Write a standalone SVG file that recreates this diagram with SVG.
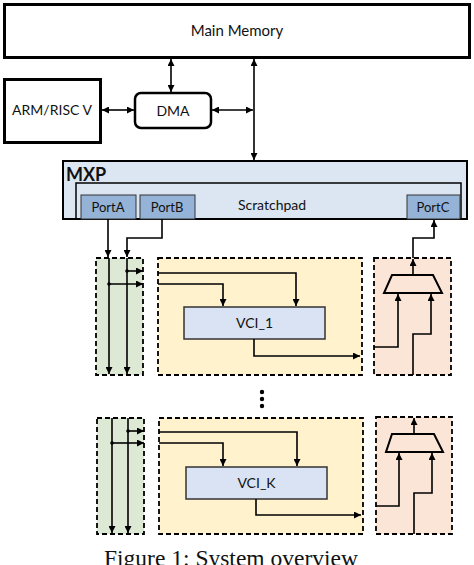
<svg xmlns="http://www.w3.org/2000/svg" width="474" height="565" viewBox="0 0 474 565">
<style>
.lbl{font-family:Lato,"Liberation Sans",sans-serif;fill:#111;text-anchor:middle}
.ln{fill:none;stroke:#000;stroke-width:1.6}
.dash{stroke:#000;stroke-width:1.8;stroke-dasharray:5,3}
.port{fill:#95b3d7;stroke:#333;stroke-width:1}
.vci{fill:#dae3f3;stroke:#333;stroke-width:1.5}
.mux{fill:#fbe5d6;stroke:#000;stroke-width:2}
</style>
<defs>
<marker id="a" markerWidth="7" markerHeight="7" refX="7" refY="3.5" orient="auto-start-reverse" markerUnits="userSpaceOnUse">
<path d="M0,0 L7,3.5 L0,7 z" fill="#000"/>
</marker>
</defs>
<rect width="474" height="565" fill="#fff"/>
<g id="main-memory">
<rect x="4.5" y="4.5" width="465" height="53" fill="#fff" stroke="#000" stroke-width="3"/>
<text class="lbl" x="237" y="36" font-size="15">Main Memory</text>
</g>
<g id="arm">
<rect x="4.5" y="79.5" width="96" height="63" fill="#fff" stroke="#000" stroke-width="3"/>
<text class="lbl" x="52" y="115" font-size="14">ARM/RISC V</text>
</g>
<g id="dma">
<rect x="135" y="93" width="76" height="35" rx="6" fill="#fff" stroke="#000" stroke-width="2.5"/>
<text class="lbl" x="173" y="116" font-size="14">DMA</text>
</g>
<g id="mxp">
<rect x="63" y="161" width="404" height="58" fill="#dce6f2" stroke="#000" stroke-width="2"/>
<text x="66" y="181" font-size="18" font-weight="bold" font-family="Lato,'Liberation Sans',sans-serif" fill="#111">MXP</text>
<path d="M76,219 V183 H461 V219" fill="none" stroke="#000" stroke-width="1.5"/>
<text class="lbl" x="272" y="210" font-size="14">Scratchpad</text>
</g>
<g id="portA"><rect class="port" x="81" y="195" width="55" height="24"/><text class="lbl" x="108" y="212" font-size="13">PortA</text></g>
<g id="portB"><rect class="port" x="140" y="195" width="55" height="24"/><text class="lbl" x="167" y="212" font-size="13">PortB</text></g>
<g id="portC"><rect class="port" x="407" y="195" width="53" height="24"/><text class="lbl" x="433" y="212" font-size="13">PortC</text></g>

<g id="route1"><rect x="96" y="258" width="47" height="117" fill="#dde9d4" class="dash"/></g>
<g id="vcu1"><rect x="158" y="258" width="204" height="117" fill="#fff2cc" class="dash"/></g>
<g id="vci1"><rect class="vci" x="184" y="307" width="141" height="32"/><text class="lbl" x="254.5" y="328" font-size="14">VCI_1</text></g>
<g id="mux1">
<rect x="374" y="258" width="77" height="117" fill="#fbe5d6" class="dash"/>
<polygon class="mux" points="392,275 433,275 442,293 384,293"/>
</g>

<g id="dots">
<circle cx="262" cy="392" r="2.2"/><circle cx="262" cy="399" r="2.2"/><circle cx="262" cy="406" r="2.2"/>
</g>

<g id="route2"><rect x="97" y="418" width="47" height="116" fill="#dde9d4" class="dash"/></g>
<g id="vcu2"><rect x="159" y="418" width="204" height="116" fill="#fff2cc" class="dash"/></g>
<g id="vcik"><rect class="vci" x="186" y="467" width="141" height="32"/><text class="lbl" x="256.5" y="488" font-size="14">VCI_K</text></g>
<g id="mux2">
<rect x="376" y="417" width="76" height="117" fill="#fbe5d6" class="dash"/>
<polygon class="mux" points="392,434 434,434 443,452 386,452"/>
</g>

<g id="connectors">
<line class="ln" x1="102" y1="110" x2="134" y2="110" marker-start="url(#a)" marker-end="url(#a)"/>
<line class="ln" x1="171" y1="59" x2="171" y2="92" marker-start="url(#a)" marker-end="url(#a)"/>
<line class="ln" x1="212" y1="110" x2="253" y2="110" marker-start="url(#a)" marker-end="url(#a)"/>
<line class="ln" x1="254" y1="59" x2="254" y2="160" marker-start="url(#a)" marker-end="url(#a)"/>

<line class="ln" x1="108" y1="219" x2="108" y2="257" marker-end="url(#a)"/>
<polyline class="ln" points="162,219 162,238 127,238 127,257" marker-end="url(#a)"/>
<line class="ln" x1="109" y1="258" x2="109" y2="374" marker-end="url(#a)"/>
<line class="ln" x1="127" y1="258" x2="127" y2="374" marker-end="url(#a)"/>
<line class="ln" x1="127" y1="271" x2="143" y2="271" marker-end="url(#a)"/>
<line class="ln" x1="109" y1="284" x2="143" y2="284" marker-end="url(#a)"/>
<circle cx="127" cy="271" r="1.8"/><circle cx="109" cy="284" r="1.8"/>
<polyline class="ln" points="158,273 296,273 296,306" marker-end="url(#a)"/>
<polyline class="ln" points="158,284 223,284 223,306" marker-end="url(#a)"/>
<polyline class="ln" points="254,339 254,356 360,356" marker-end="url(#a)"/>
<line class="ln" x1="413" y1="275" x2="413" y2="259" marker-end="url(#a)"/>
<polyline class="ln" points="413,258 413,238 434,238 434,220" marker-end="url(#a)"/>
<polyline class="ln" points="374,347 398,347 398,294" marker-end="url(#a)"/>
<polyline class="ln" points="413,375 413,334 431,334 431,294" marker-end="url(#a)"/>

<line class="ln" x1="112" y1="418" x2="112" y2="533" marker-end="url(#a)"/>
<line class="ln" x1="128" y1="418" x2="128" y2="533" marker-end="url(#a)"/>
<line class="ln" x1="128" y1="431" x2="144" y2="431" marker-end="url(#a)"/>
<line class="ln" x1="112" y1="443" x2="144" y2="443" marker-end="url(#a)"/>
<circle cx="128" cy="431" r="1.8"/><circle cx="112" cy="443" r="1.8"/>
<polyline class="ln" points="159,432 297,432 297,466" marker-end="url(#a)"/>
<polyline class="ln" points="159,443 223,443 223,466" marker-end="url(#a)"/>
<polyline class="ln" points="256,499 256,515 361,515" marker-end="url(#a)"/>
<line class="ln" x1="414" y1="434" x2="414" y2="418" marker-end="url(#a)"/>
<polyline class="ln" points="376,506 399,506 399,453" marker-end="url(#a)"/>
<polyline class="ln" points="414,534 414,493 432,493 432,453" marker-end="url(#a)"/>
</g>
<text x="104" y="566" font-family="'Liberation Serif',serif" font-size="23.5" fill="#111">Figure 1: System overview</text>
</svg>
